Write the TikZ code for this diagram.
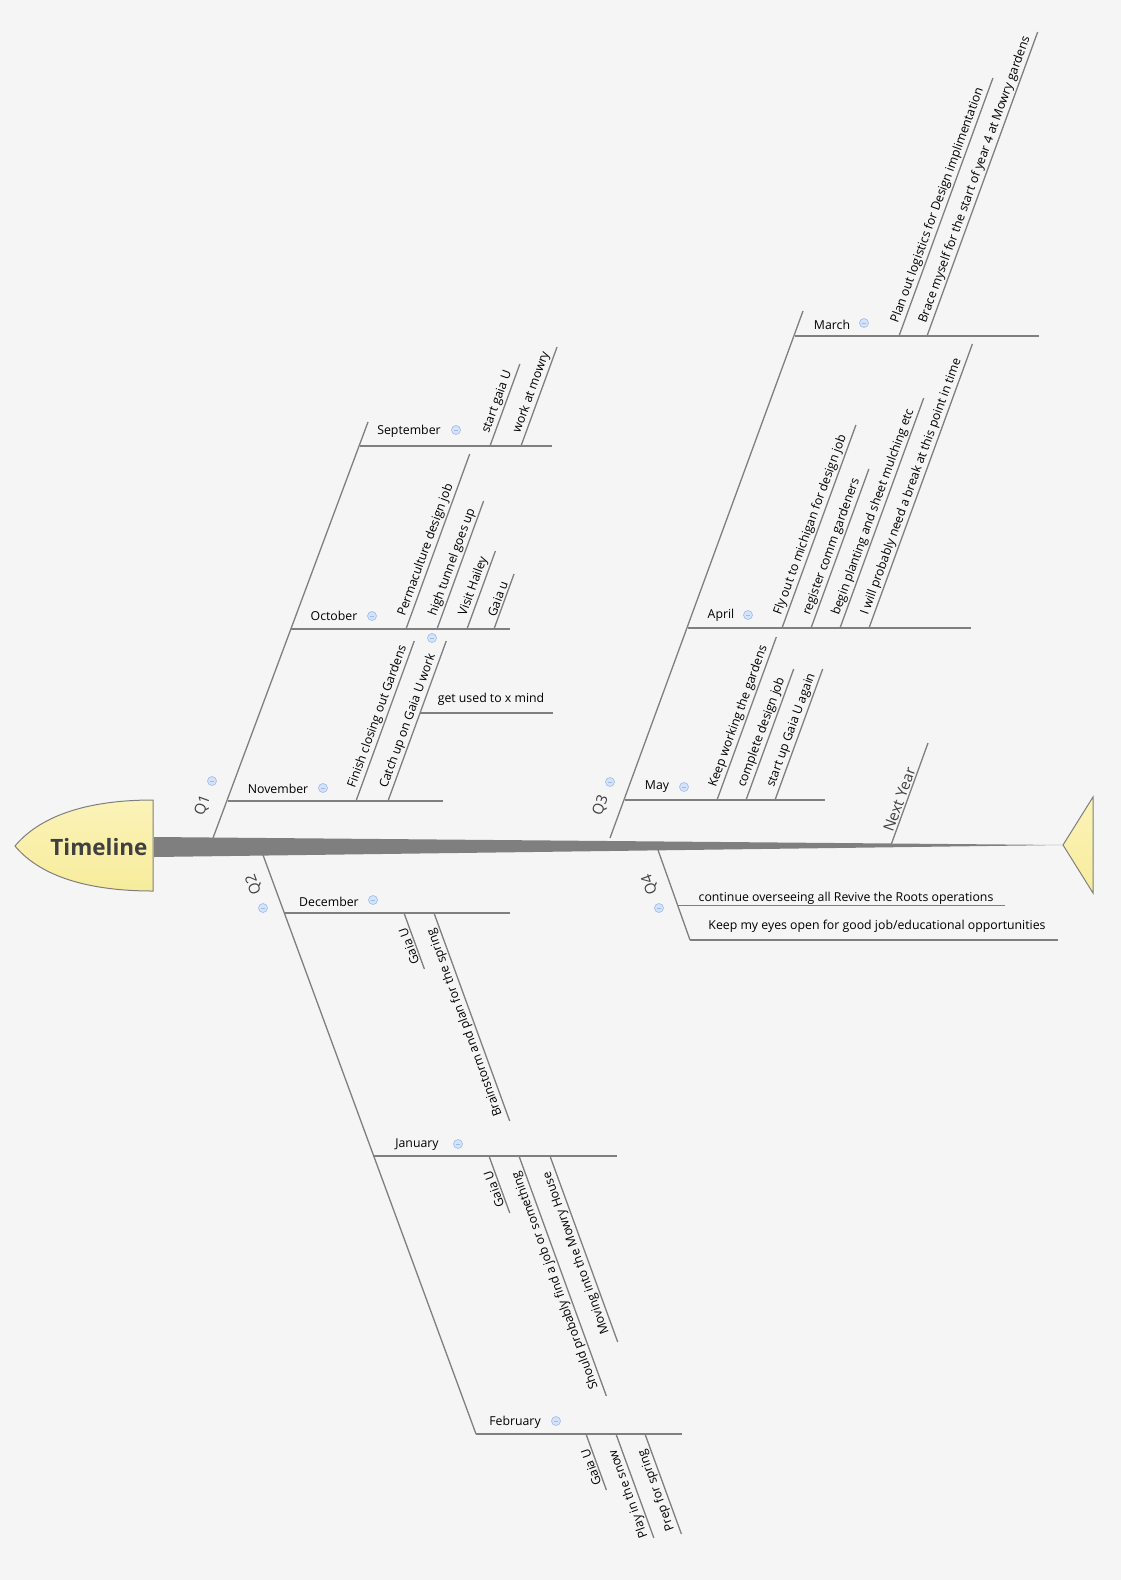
\documentclass[tikz,border=0pt]{standalone}
\usepackage{fontspec}
\setmainfont{Open Sans}
\usetikzlibrary{calc}
\definecolor{bg}{HTML}{F5F5F5}
\definecolor{linegray}{HTML}{7F7F7F}
\definecolor{mfill}{HTML}{D4E3FA}
\definecolor{medge}{HTML}{9DBBEB}
\definecolor{headfill}{HTML}{FBF3B8}
\definecolor{headfill2}{HTML}{F7EC9C}
\definecolor{darktext}{HTML}{404040}
\tikzset{
  bone/.style={draw=linegray, line width=1.3pt},
  lbl/.style={font=\fontsize{12.3}{14}\selectfont, text=black, inner sep=2pt},
  qlbl/.style={font=\fontsize{15}{17}\selectfont, text=darktext, inner sep=1pt},
  mcirc/.style={circle, minimum size=9pt, inner sep=0pt, fill=mfill, draw=medge, line width=0.6pt,
    path picture={\draw[medge,line width=0.8pt] ([xshift=-2.2pt]path picture bounding box.center) -- ([xshift=2.2pt]path picture bounding box.center);}}
}
% upper item: name, base x, base y, rise, text
\newcommand\upit[5]{%
  \coordinate (#1b) at (#2,#3);
  \coordinate (#1t) at ({#2+0.364*#4},{#3-#4});
  \draw[bone] (#1b) -- (#1t);
  \node[lbl, rotate=70, anchor=south west] (#1) at ($(#1b)!9pt!(#1t)$) {#5};}
% lower item: name, top x, top y, drop, text
\newcommand\lowit[5]{%
  \coordinate (#1t) at (#2,#3);
  \coordinate (#1b) at ({#2+0.364*#4},{#3+#4});
  \draw[bone] (#1t) -- (#1b);
  \node[lbl, rotate=110, anchor=south east] (#1) at ($(#1t)!12pt!(#1b)$) {#5};}
\newcommand\mns[2]{\node[mcirc] (#1) at (#2) {};}
\begin{document}
\begin{tikzpicture}[x=1pt,y=-1pt]
\fill[bg] (0,0) rectangle (1121,1580);

% spine
\fill[linegray] (154,837) -- (1063,845) -- (154,857) -- cycle;

% head
\draw[linegray, line width=1pt, top color=headfill, bottom color=headfill2]
  (153,800) .. controls (75,800) and (35,822) .. (15,846) .. controls (35,870) and (75,891) .. (153,891) -- cycle;
\node[font=\bfseries\fontsize{22.5}{24}\selectfont, text=darktext] (title) at (99,847) {Timeline};
% tail
\draw[linegray, line width=1pt, top color=headfill, bottom color=headfill2] (1063,845) -- (1093,797) -- (1093,893) -- cycle;

% ---------- Q1 ----------
\coordinate (q1a) at (213,838);
\coordinate (q1b) at (368,422);
\draw[bone] (q1a) -- (q1b);
\node[qlbl, rotate=70] (q1) at (203,806) {Q1};
\mns{q1m}{212,781}

\coordinate (sepa) at (360,446); \coordinate (sepb) at (552,446);
\draw[bone] (sepa) -- (sepb);
\node[lbl] (sep) at (409,431) {September}; \mns{sepm}{456,430}
\upit{s1}{490}{446}{82}{start gaia U}
\upit{s2}{521}{446}{99}{work at mowry}

\coordinate (octa) at (291,629); \coordinate (octb) at (510,629);
\draw[bone] (octa) -- (octb);
\node[lbl] (oct) at (334,616) {October}; \mns{octm}{372,616}
\upit{o1}{406}{629}{175}{Permaculture design job}
\upit{o2}{437}{629}{128}{high tunnel goes up}
\upit{o3}{467}{629}{78}{Visit Hailey}
\upit{o4}{494}{629}{55}{Gaia u}

\coordinate (nova) at (228,801); \coordinate (novb) at (443,801);
\draw[bone] (nova) -- (novb);
\node[lbl] (nov) at (278,789) {November}; \mns{novm}{323,788}
\upit{n1}{356}{801}{160}{Finish closing out Gardens}
\upit{n2}{388}{801}{160}{Catch up on Gaia U work}
\mns{n2m}{432,638}
\coordinate (gxa) at ($(n2b)!0.55!(n2t)$);
\coordinate (gxb) at (553,711);
\draw[bone] (gxa) -- (gxa -| gxb);
\node[lbl] (gx) at (491,699) {get used to x mind};

% ---------- Q3 ----------
\coordinate (q3a) at (610,838);
\coordinate (q3b) at (803,311);
\draw[bone] (q3a) -- (q3b);
\node[qlbl, rotate=70] (q3) at (601,806) {Q3};
\mns{q3m}{610,782}

\coordinate (mara) at (795,336); \coordinate (marb) at (1039,336);
\draw[bone] (mara) -- (marb);
\node[lbl] (mar) at (832,325) {March}; \mns{marm}{864,323}
\upit{m1}{899}{336}{258}{Plan out logistics for Design implimentation}
\upit{m2}{927}{336}{304}{Brace myself for the start of year 4 at Mowry gardens}

\coordinate (apra) at (688,628); \coordinate (aprb) at (971,628);
\draw[bone] (apra) -- (aprb);
\node[lbl] (apr) at (721,615) {April}; \mns{aprm}{748,615}
\upit{a1}{782}{628}{203}{Fly out to michigan for design job}
\upit{a2}{811}{628}{159}{register comm gardeners}
\upit{a3}{840}{628}{230}{begin planting and sheet mulching etc}
\upit{a4}{869}{628}{284}{I will probably need a break at this point in time}

\coordinate (maya) at (625,800); \coordinate (mayb) at (825,800);
\draw[bone] (maya) -- (mayb);
\node[lbl] (may) at (657,787) {May}; \mns{maym}{684,787}
\upit{y1}{717}{800}{163}{Keep working the gardens}
\upit{y2}{746}{800}{131}{complete design job}
\upit{y3}{775}{800}{131}{start up Gaia U again}

% Next Year
\coordinate (nya) at (891,845);
\coordinate (nyb) at (928,743);
\draw[bone] (nya) -- (nyb);
\node[qlbl, rotate=70, anchor=south west, inner sep=2pt] (ny) at ($(nya)!10pt!(nyb)$) {Next Year};

% ---------- Q2 ----------
\coordinate (q2a) at (263,855);
\coordinate (q2b) at (476,1434);
\draw[bone] (q2a) -- (q2b);
\node[qlbl, rotate=110] (q2) at (254,884) {Q2};
\mns{q2m}{263,908}

\coordinate (deca) at (284,913); \coordinate (decb) at (510,913);
\draw[bone] (deca) -- (decb);
\node[lbl] (dec) at (329,902) {December}; \mns{decm}{373,900}
\lowit{d1}{404}{913}{56}{Gaia U}
\lowit{d2}{434}{913}{208}{Brainstorm and plan for the spring}

\coordinate (jana) at (373,1156); \coordinate (janb) at (617,1156);
\draw[bone] (jana) -- (janb);
\node[lbl] (jan) at (417,1145) {January}; \mns{janm}{458,1144}
\lowit{j1}{489}{1156}{57}{Gaia U}
\lowit{j2}{519}{1156}{240}{Should probably find a job or something}
\lowit{j3}{550}{1156}{186}{Moving into the Mowry House}

\coordinate (feba) at (476,1434); \coordinate (febb) at (682,1434);
\draw[bone] (feba) -- (febb);
\node[lbl] (feb) at (515,1422) {February}; \mns{febm}{556,1421}
\lowit{f1}{586}{1434}{56}{Gaia U}
\lowit{f2}{616}{1434}{104}{Play in the snow}
\lowit{f3}{645}{1434}{100}{Prep for spring}

% ---------- Q4 ----------
\coordinate (q4a) at (658,850);
\coordinate (q4b) at (690,940);
\draw[bone] (q4a) -- (q4b);
\node[qlbl, rotate=110] (q4) at (650,884) {Q4};
\mns{q4m}{659,908}
\coordinate (c1a) at ($(q4a)!0.62!(q4b)$);
\coordinate (c1b) at (1005,911);
\draw[bone] (c1a) -- (c1a -| c1b);
\node[lbl] (c1) at (846,898) {continue overseeing all Revive the Roots operations};
\coordinate (c2b) at (1058,939);
\draw[bone] (q4b) -- (q4b -| c2b);
\node[lbl] (c2) at (877,926) {Keep my eyes open for good job/educational opportunities};
\pgfresetboundingbox
\useasboundingbox (0,0) rectangle (1121,1580);
\end{tikzpicture}
\end{document}
